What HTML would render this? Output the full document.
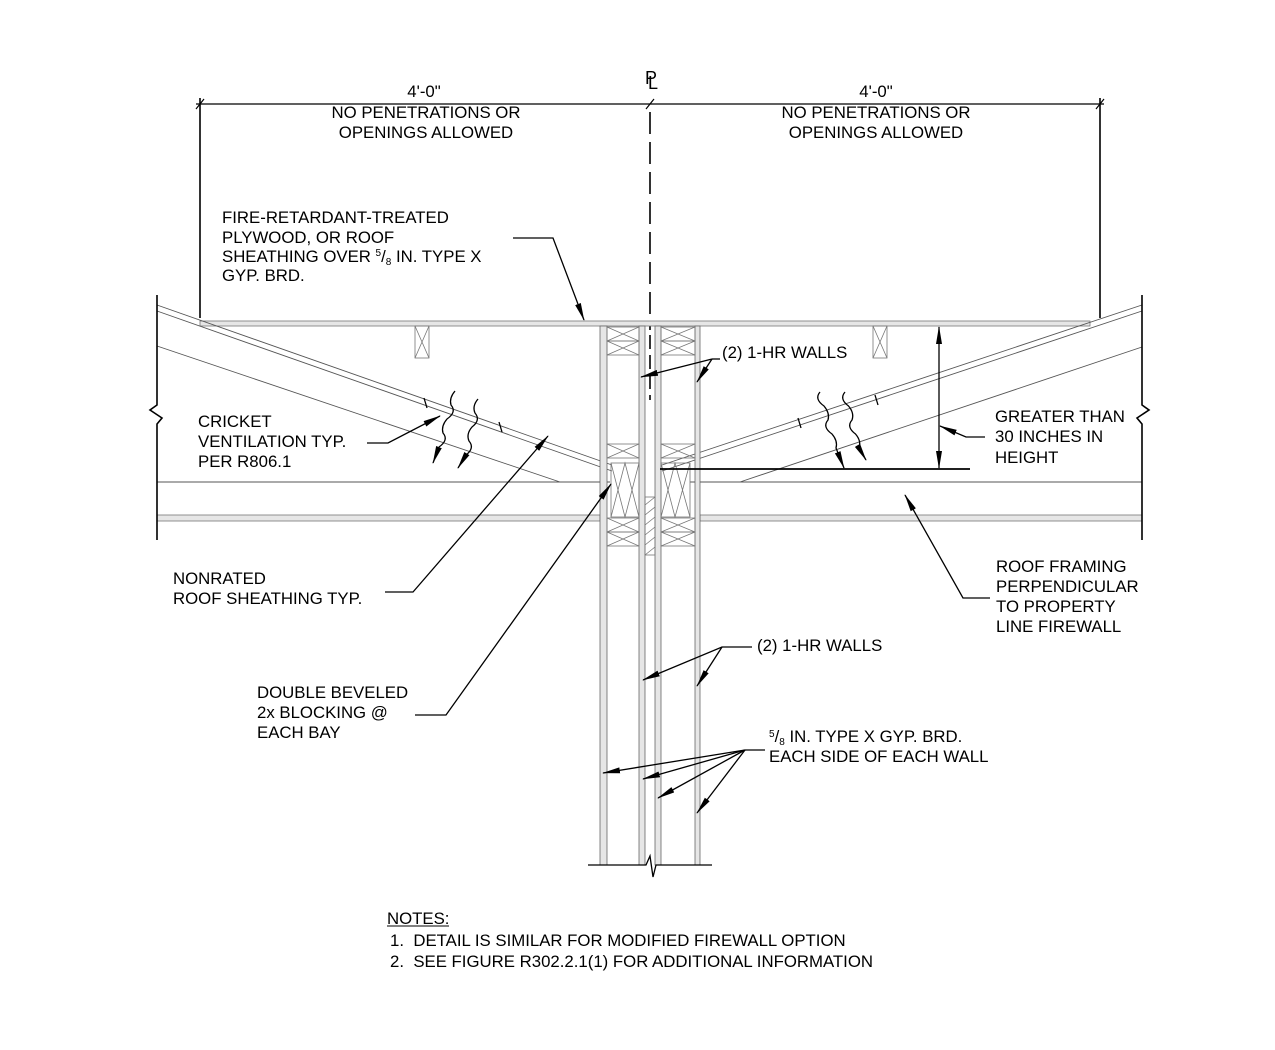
<!DOCTYPE html>
<html><head><meta charset="utf-8"><style>
html,body{margin:0;padding:0;background:#fff;}
svg{display:block;}
text{font-family:"Liberation Sans",Arial,sans-serif;font-size:16.8px;fill:#000;}
</style></head><body>
<svg width="1275" height="1050" viewBox="0 0 1275 1050" xmlns="http://www.w3.org/2000/svg">
<defs>
<marker id="a" markerWidth="18" markerHeight="8" refX="17" refY="4" orient="auto" markerUnits="userSpaceOnUse">
<path d="M0,1 L18,4 L0,7 Z" fill="#000"/></marker>
</defs>
<g stroke="#000" fill="none" stroke-width="1.2">
<line x1="196" y1="104" x2="1104" y2="104"/>
<line x1="200" y1="98" x2="200" y2="318" stroke-width="1.6"/>
<line x1="1100" y1="98" x2="1100" y2="318" stroke-width="1.6"/>
<line x1="196" y1="109" x2="204" y2="99"/>
<line x1="646" y1="109" x2="654" y2="99"/>
<line x1="1096" y1="109" x2="1104" y2="99"/>
<line x1="650" y1="112" x2="650" y2="330" stroke-dasharray="22,8" stroke-width="1.6"/>
<line x1="650" y1="335" x2="650" y2="400" stroke-dasharray="14,6" stroke-width="1.6"/>
</g>
<rect x="200" y="321" width="890" height="5" fill="#e6e6e6" stroke="#777" stroke-width="0.8"/>
<g stroke="#555" fill="none" stroke-width="0.9">
<line x1="157" y1="305" x2="612" y2="465"/>
<line x1="157" y1="311" x2="612" y2="471"/>
<line x1="157" y1="346" x2="560" y2="482"/>
<line x1="1142" y1="305" x2="662" y2="465"/>
<line x1="1142" y1="311" x2="662" y2="471"/>
<line x1="1142" y1="347" x2="740" y2="482"/>
<line x1="157" y1="482" x2="610" y2="482"/>
<line x1="690" y1="482" x2="1142" y2="482"/>
</g>
<rect x="157" y="515" width="443" height="6" fill="#e6e6e6" stroke="#777" stroke-width="0.8"/>
<rect x="700" y="515" width="442" height="6" fill="#e6e6e6" stroke="#777" stroke-width="0.8"/>
<g stroke="#000" fill="none" stroke-width="1.6">
<path d="M157,295 V405 L150,410 L162,418 L157,424 V540"/>
<path d="M1142,295 V405 L1149,410 L1137,418 L1142,424 V540"/>
</g>
<g fill="#e6e6e6" stroke="#666" stroke-width="0.8">
<rect x="600" y="326" width="7" height="539"/>
<rect x="639" y="326" width="6" height="539"/>
<rect x="655" y="326" width="6" height="539"/>
<rect x="695" y="326" width="5" height="539"/>
</g>
<g stroke="#777" fill="none" stroke-width="0.8">
<rect x="607" y="327" width="32" height="14"/><path d="M607,327 L639,341 M639,327 L607,341"/>
<rect x="607" y="341" width="32" height="14"/><path d="M607,341 L639,355 M639,341 L607,355"/>
<rect x="661" y="327" width="34" height="14"/><path d="M661,327 L695,341 M695,327 L661,341"/>
<rect x="661" y="341" width="34" height="14"/><path d="M661,341 L695,355 M695,341 L661,355"/>
<rect x="607" y="444" width="32" height="14"/><path d="M607,444 L639,458 M639,444 L607,458"/>
<rect x="661" y="444" width="34" height="14"/><path d="M661,444 L695,458 M695,444 L661,458"/>
<rect x="611" y="463" width="28" height="54"/><path d="M611,463 L625,517 L639,463 M611,517 L625,463 L639,517"/>
<rect x="661" y="463" width="29" height="54"/><path d="M661,463 L675,517 L690,463 M661,517 L675,463 L690,517"/>
<rect x="607" y="518" width="32" height="14"/><path d="M607,518 L639,532 M639,518 L607,532"/>
<rect x="607" y="532" width="32" height="14"/><path d="M607,532 L639,546 M639,532 L607,546"/>
<rect x="661" y="518" width="34" height="14"/><path d="M661,518 L695,532 M695,518 L661,532"/>
<rect x="661" y="532" width="34" height="14"/><path d="M661,532 L695,546 M695,532 L661,546"/>
<rect x="645" y="497" width="10" height="58"/><path d="M645,505 L655,497 M645,515 L655,507 M645,525 L655,517 M645,535 L655,527 M645,545 L655,537 M645,555 L655,547"/>
<rect x="415" y="326" width="14" height="32"/><path d="M415,326 L429,358 M429,326 L415,358"/>
<rect x="873" y="326" width="14" height="32"/><path d="M873,326 L887,358 M887,326 L873,358"/>
</g>
<g stroke="#000" fill="none" stroke-width="1.3">
<path d="M588,865 H646 L650,856 L653,877 L656,865 H712"/>
<line x1="424" y1="398" x2="427" y2="408"/><line x1="499" y1="422" x2="502" y2="432"/>
<line x1="798" y1="418" x2="801" y2="428"/><line x1="875" y1="395" x2="878" y2="405"/>
<path d="M455,391 q-6,7 -4,14 q6,7 -4,14 q-6,7 -4,14 q6,7 -4,14 L433,463" marker-end="url(#a)"/>
<path d="M478,399 q-6,7 -3,14 q6,7 -3,14 q-6,7 -3,14 q6,7 -3,14 L458,468" marker-end="url(#a)"/>
<path d="M820,392 q-6,7 4,14 q6,7 4,14 q-6,7 4,14 q6,7 4,14 L844,468" marker-end="url(#a)"/>
<path d="M845,392 q-6,7 3.5,14 q6,7 3.5,14 q-6,7 3.5,14 q6,7 3.5,14 L866,460" marker-end="url(#a)"/>
<line x1="660" y1="469" x2="970" y2="469" stroke-width="1.8"/>
<line x1="939" y1="398" x2="939" y2="327" marker-end="url(#a)"/>
<line x1="939" y1="398" x2="939" y2="468" marker-end="url(#a)"/>
<path d="M513,238 H553 L584,320" marker-end="url(#a)"/>
<path d="M712,359 L641,377" marker-end="url(#a)"/>
<path d="M712,359 L697,382" marker-end="url(#a)"/>
<path d="M712,359 H720"/>
<path d="M367,443 H388 L440,416" marker-end="url(#a)"/>
<path d="M385,592 H413 L548,436" marker-end="url(#a)"/>
<path d="M415,715 H446 L611,484" marker-end="url(#a)"/>
<path d="M985,437 H966 L940,426" marker-end="url(#a)"/>
<path d="M990,598 H963 L905,495" marker-end="url(#a)"/>
<path d="M752,647 H722 L643,680" marker-end="url(#a)"/>
<path d="M722,647 L697,686" marker-end="url(#a)"/>
<path d="M765,750 H745 L603,773" marker-end="url(#a)"/>
<path d="M745,750 L643,779" marker-end="url(#a)"/>
<path d="M745,750 L658,798" marker-end="url(#a)"/>
<path d="M745,750 L697,813" marker-end="url(#a)"/>
<line x1="387" y1="926" x2="449" y2="926" stroke-width="1"/>
</g>
<text x="424" y="97" text-anchor="middle">4'-0"</text>
<text x="876" y="97" text-anchor="middle">4'-0"</text>
<text x="426" y="118" text-anchor="middle">NO PENETRATIONS OR</text>
<text x="426" y="138" text-anchor="middle">OPENINGS ALLOWED</text>
<text x="876" y="118" text-anchor="middle">NO PENETRATIONS OR</text>
<text x="876" y="138" text-anchor="middle">OPENINGS ALLOWED</text>
<text x="645" y="84" style="font-size:18px">P</text>
<text x="648" y="89" style="font-size:18px">L</text>
<text x="222" y="223">FIRE-RETARDANT-TREATED</text>
<text x="222" y="243">PLYWOOD, OR ROOF</text>
<text x="222" y="262">SHEATHING OVER <tspan style="font-size:10px" dy="-6">5</tspan><tspan dy="6">/</tspan><tspan style="font-size:10px" dy="3">8</tspan><tspan dy="-3"> IN. TYPE X</tspan></text>
<text x="222" y="281">GYP. BRD.</text>
<text x="722" y="358">(2) 1-HR WALLS</text>
<text x="198" y="427">CRICKET</text>
<text x="198" y="447">VENTILATION TYP.</text>
<text x="198" y="467">PER R806.1</text>
<text x="995" y="422">GREATER THAN</text>
<text x="995" y="442">30 INCHES IN</text>
<text x="995" y="463">HEIGHT</text>
<text x="173" y="584">NONRATED</text>
<text x="173" y="604">ROOF SHEATHING TYP.</text>
<text x="996" y="572">ROOF FRAMING</text>
<text x="996" y="592">PERPENDICULAR</text>
<text x="996" y="612">TO PROPERTY</text>
<text x="996" y="632">LINE FIREWALL</text>
<text x="757" y="651">(2) 1-HR WALLS</text>
<text x="257" y="698">DOUBLE BEVELED</text>
<text x="257" y="718">2x BLOCKING @</text>
<text x="257" y="738">EACH BAY</text>
<text x="769" y="742"><tspan style="font-size:10px" dy="-5">5</tspan><tspan dy="5">/</tspan><tspan style="font-size:10px" dy="3">8</tspan><tspan dy="-3"> IN. TYPE X GYP. BRD.</tspan></text>
<text x="769" y="762">EACH SIDE OF EACH WALL</text>
<text x="387" y="924">NOTES:</text>
<text x="390" y="946">1.&#160;&#160;DETAIL IS SIMILAR FOR MODIFIED FIREWALL OPTION</text>
<text x="390" y="967">2.&#160;&#160;SEE FIGURE R302.2.1(1) FOR ADDITIONAL INFORMATION</text>
</svg>
</body></html>
